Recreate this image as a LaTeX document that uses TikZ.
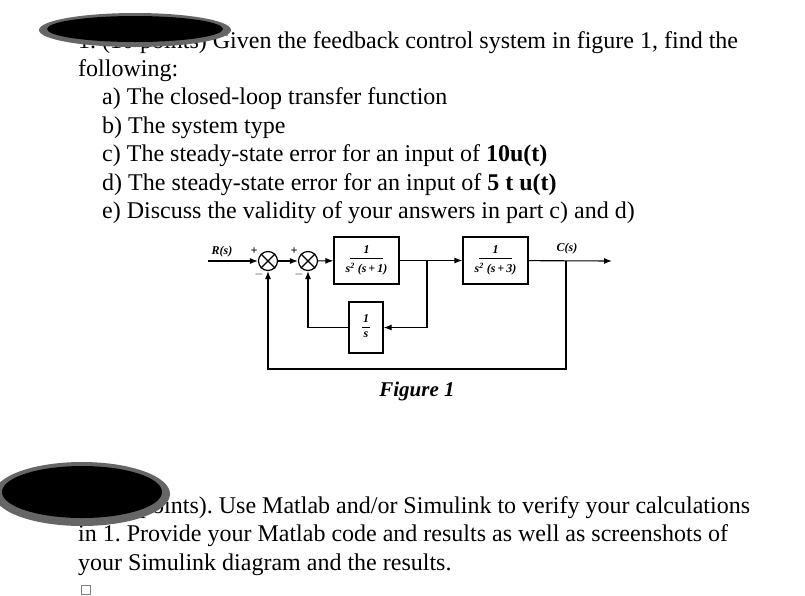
\documentclass[tikz,border=0pt]{standalone}
\usepackage{fontspec}
\setmainfont{Liberation Serif}
\usetikzlibrary{arrows.meta}
\begin{document}
\frenchspacing
\begin{tikzpicture}[x=1pt,y=-1pt,
  txt/.style={anchor=base west,inner sep=0,font=\fontsize{24}{24}\selectfont},
  blk/.style={draw,line width=1.2pt,inner sep=0},
  sumj/.style={draw,circle,line width=1.2pt,minimum size=19pt,inner sep=0},
  lab/.style={font=\fontsize{12}{12}\selectfont\itshape\bfseries,inner sep=0},
  sig/.style={line width=1.1pt},
  ar/.style={sig,-{Latex[length=8pt,width=6pt]}}]
\useasboundingbox (0,0) rectangle (805,595);
\fill[white] (0,0) rectangle (805,595);
% text
\node[txt] (t1) at (78,48) {1. (10 points) Given the feedback control system in figure 1, find the};
\node[txt] (t2) at (78,76) {following:};
\node[txt] (t3) at (102,104) {a) The closed-loop transfer function};
\node[txt] (t4) at (102,133) {b) The system type};
\node[txt] (t5) at (102,161) {c) The steady-state error for an input of \textbf{10u(t)}};
\node[txt] (t6) at (102,190) {d) The steady-state error for an input of \textbf{5 t u(t)}};
\node[txt] (t7) at (102,218) {e) Discuss the validity of your answers in part c) and d)};
\node[txt] (b1) at (78,513) {2. (10 points). Use Matlab and/or Simulink to verify your calculations};
\node[txt] (b2) at (78,541) {in 1. Provide your Matlab code and results as well as screenshots of};
\node[txt] (b3) at (78,570) {your Simulink diagram and the results.};
\node[draw=gray,line width=0.5pt,minimum size=9pt,inner sep=0] (cb) at (86,590) {};
% blobs
\fill[black!60] (135,30) ellipse (96 and 17);
\fill[black] (135,29) ellipse (88 and 13);
\fill[black!60] (82,494) ellipse (88 and 32);
\fill[black] (82,492) ellipse (80 and 26);
% diagram
\coordinate (in) at (208,261);
\node[sumj] (s1) at (268,261) {};
\node[sumj] (s2) at (308,261) {};
\draw[line width=1.1pt] (s1.45)--(s1.225) (s1.135)--(s1.315);
\draw[line width=1.1pt] (s2.45)--(s2.225) (s2.135)--(s2.315);
\node[blk,minimum width=65pt,minimum height=47pt] (g1) at (366.5,260.5) {};
\node[lab] at (366.5,250) {1};
\draw[line width=0.7pt] (350,258)--(383,258);
\node[lab] at (366.5,269) {\textit{s}\textsuperscript{2} (\textit{s}\,+\,1)};
\node[blk,minimum width=65pt,minimum height=47pt] (g2) at (495.5,260.5) {};
\node[lab] at (495.5,250) {1};
\draw[line width=0.7pt] (479,258)--(512,258);
\node[lab] at (495.5,269) {\textit{s}\textsuperscript{2} (\textit{s}\,+\,3)};
\node[blk,minimum width=34pt,minimum height=51pt] (h) at (366,327.5) {};
\node[lab] at (366,319) {1};
\draw[line width=0.7pt] (362,327)--(370,327);
\node[lab] at (366,335) {s};
\coordinate (br1) at (427,261);
\coordinate (br2) at (566,261);
\coordinate (out) at (612,261);
\draw[ar] (in)--(s1);
\draw[ar] (s1)--(s2);
\draw[ar] (s2)--(g1);
\draw[ar] (g1)--(g2);
\draw[ar] (g2)--(out);
\draw[ar] (br1)|-(h);
\draw[ar] (h)-|(s2);
\draw[ar] (br2)|-(268,369)--(s1);
\node[lab,anchor=base] (rl) at (222,254) {R(s)};
\node[lab,anchor=base] (cl) at (567,251) {C(s)};
\node[lab] at (254,251) {+};
\node[lab] at (294,251) {+};
\node[lab] at (259,274) {$-$};
\node[lab] at (299,274) {$-$};
\node[font=\fontsize{21}{21}\selectfont\itshape\bfseries,inner sep=0] (fig) at (417,391) {Figure 1};
\end{tikzpicture}
\end{document}
